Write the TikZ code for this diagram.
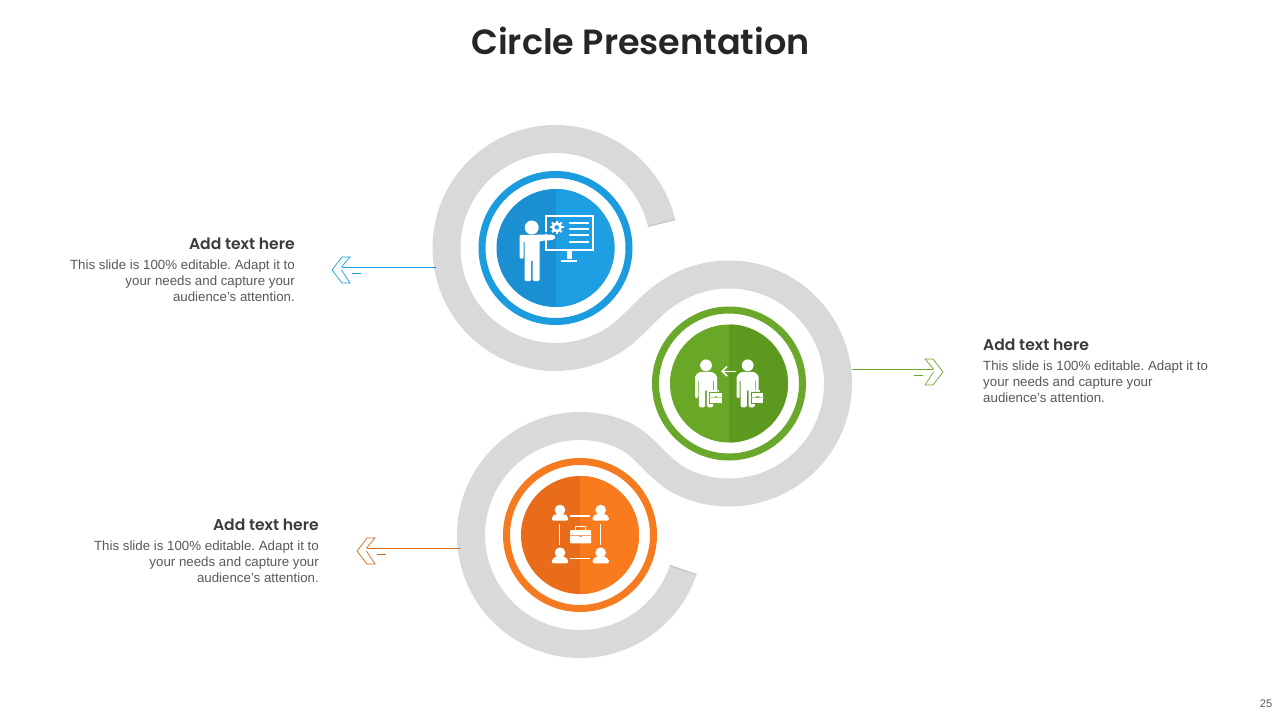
\documentclass[tikz,border=0pt]{standalone}
\usepackage{fontspec}
\setmainfont{Liberation Sans}
\newfontfamily\titlefont{Poppins}[UprightFont=* SemiBold]
\usetikzlibrary{arrows}

\definecolor{ringGray}{HTML}{D9D9D9}
\definecolor{blueRing}{HTML}{1B9CDE}
\definecolor{blueLeft}{HTML}{1A8FD1}
\definecolor{blueRight}{HTML}{1E9FE3}
\definecolor{greenRing}{HTML}{69A82A}
\definecolor{greenLeft}{HTML}{69A827}
\definecolor{greenRight}{HTML}{5B991F}
\definecolor{orangeRing}{HTML}{F57B20}
\definecolor{orangeLeft}{HTML}{E96C1B}
\definecolor{orangeRight}{HTML}{FA7A1E}
\definecolor{bodyGray}{HTML}{595959}
\definecolor{headGray}{HTML}{3B3B3B}

\tikzset{
	badgering/.style={circle, draw=#1, line width=7pt, minimum size=147pt, inner sep=0pt, fill=white},
	badgedisc/.style={circle, fill=#1, minimum size=118pt, inner sep=0pt},
	headtext/.style={font=\titlefont\fontsize{15.6}{18}\selectfont, text=headGray, inner sep=0pt},
	bodytext/.style={font=\frenchspacing\fontsize{13.3}{16}\selectfont, text=bodyGray, inner sep=0pt},
	leadline/.style={#1, line width=1pt},
	iconline/.style={draw=white, line width=2pt},
}

% ring, disc and lighter half of one badge
\newcommand{\badge}[4]{
	\node[badgering=#2] (#1Ring) at (#1Center) {};
	\node[badgedisc=#3] (#1Disc) at (#1Center) {};
	\fill[#4] (#1Center) ++(90:59pt) arc[start angle=90, end angle=-90, radius=59pt] -- cycle;
}
% hollow arrow head, #1 is the tip, #2 is 1 or -1 for right or left
\newcommand{\arrowtip}[3]{
	\begin{scope}[shift={(#1)}, x=#2pt]
		\draw[#3, line width=0.7pt, line join=miter] (-9.5,-3) -- (-18,-13) -- (-10,-13) -- (0,0) -- (-10,13) -- (-18,13) -- (-9.5,0);
		\draw[#3, line width=0.7pt] (-20,3.5) -- (-29,3.5);
	\end{scope}
}
\newcommand{\manicon}[2]{
	\begin{scope}[shift={(#1)}]
		\fill[white] (0,0) circle (5.9pt);
		\fill[white, rounded corners=1.5pt] (-11,33) -- (-11,10.5) -- (-6.5,6.5) -- (6.5,6.5) -- (11,10.5) -- (11,33) -- (8,33) -- (8,14) -- (7.2,14) -- (7.2,42) -- (0.8,42) -- (0.8,24) -- (-0.8,24) -- (-0.8,42) -- (-7.2,42) -- (-7.2,14) -- (-8,14) -- (-8,33) -- cycle;
		\draw[#2, fill=white, line width=0.9pt] (3.3,27.5) rectangle (16,38.5);
		\draw[white, line width=0.8pt] (7,27) -- (7,25.5) -- (12,25.5) -- (12,27);
		\draw[#2!50!white, line width=0.5pt] (3.3,32) -- (16,32);
		\fill[#2!70!white] (8.5,31) rectangle (11,33);
	\end{scope}
}
\newcommand{\staffhead}[1]{
	\begin{scope}[shift={(#1)}]
		\fill[white] (0,0) circle (5.3pt);
		\fill[white, rounded corners=2pt] (-8.2,10.7) -- (-8.2,6) -- (-3,3.8) -- (3,3.8) -- (8.2,6) -- (8.2,10.7) -- cycle;
	\end{scope}
}

\begin{document}
\begin{tikzpicture}[x=1pt, y=-1pt]
	\useasboundingbox (0,0) rectangle (1280,720);
	\fill[white] (0,0) rectangle (1280,720);

	\coordinate (blueCenter) at (555.5,248);
	\coordinate (greenCenter) at (729,383.5);
	\coordinate (orangeCenter) at (580,535);

	\node[font=\titlefont\fontsize{35}{40}\selectfont, text=black!85, inner sep=0pt, anchor=base] (title) at (640.5,54) {Circle Presentation};

	% grey band
	\draw[ringGray, line width=28pt] (blueCenter) ++(13:109pt)
		arc[start angle=13, end angle=305, radius=109pt]
		.. controls (635.5,324.7) and (648.5,306.3) .. (666.5,294.2)
		arc[start angle=125, end angle=-115, radius=109pt]
		.. controls (656,469.5) and (645.5,442.6) .. (617.3,432.6)
		arc[start angle=70, end angle=341.5, radius=109pt];
	\draw[black!22, line width=1.2pt] (blueCenter) ++(13.3:95pt) -- ++(13.3:28pt);
	\draw[black!22, line width=1.2pt] (orangeCenter) ++(341.2:95pt) -- ++(341.2:28pt);

	\badge{blue}{blueRing}{blueLeft}{blueRight}
	\badge{green}{greenRing}{greenLeft}{greenRight}
	\badge{orange}{orangeRing}{orangeLeft}{orangeRight}

	% presenter
	\fill[white] (531.7,227.5) circle (7pt);
	\fill[white, rounded corners=1.2pt] (519.5,258.5) -- (519.5,235) -- (553,234.5) -- (556,237) -- (553,240) -- (539.5,241) -- (539.5,281) -- (532.7,281) -- (532.7,260) -- (531,260) -- (531,281) -- (524.5,281) -- (524.5,241) -- (523.5,241) -- (523.5,258.5) -- cycle;
	\draw[iconline, line width=1.8pt] (546,216) rectangle (593,250);
	\fill[blueRight] (545,231.5) rectangle (547,233.5);
	\draw[iconline] (568.5,222.7) -- (588.5,222.7) (568.5,229) -- (588.5,229) (568.5,235.3) -- (588.5,235.3) (568.5,241.7) -- (588.5,241.7);
	\draw[white, line width=2.6pt] (556.8,227.3) circle (3.8pt);
	\foreach \a in {0,45,...,315}
		\draw[white, line width=2pt] (556.8,227.3) ++(\a:4.5pt) -- ++(\a:2.3pt);
	\fill[white] (567,251) rectangle (571.5,259);
	\fill[white] (560.7,259.5) rectangle (577.3,262);

	% two men
	\manicon{706,365.3}{greenLeft}
	\manicon{747.7,365.3}{greenRight}
	\draw[white, line width=1.6pt] (736,371.3) -- (723,371.3);
	\draw[white, line width=1.6pt] (727,366.5) -- (722.3,371.3) -- (727,376);

	% four staff and a case
	\staffhead{560,510}
	\staffhead{600.7,510}
	\staffhead{560,552.7}
	\staffhead{600.7,552.7}
	\draw[iconline, line width=1.4pt] (570,516) -- (590,516) (570,558.3) -- (590,558.3) (559.3,524) -- (559.3,545) (600.7,524) -- (600.7,545);
	\fill[white, rounded corners=0.8pt] (570,530) rectangle (591,543.3);
	\draw[white, line width=1pt] (575.5,530) -- (575.5,526.7) -- (585.5,526.7) -- (585.5,530);
	\draw[orangeLeft!60!white, line width=0.4pt] (570,535.5) -- (591,535.5);
	\fill[orangeLeft!70!white] (579.3,534.5) rectangle (581.7,536.8);

	% arrows
	\coordinate (blueStart) at (436,267.5);
	\coordinate (blueEnd) at (342,267.5);
	\coordinate (blueTip) at (332,270);
	\coordinate (greenStart) at (852,369.5);
	\coordinate (greenEnd) at (933,369.5);
	\coordinate (greenTip) at (943,372);
	\coordinate (orangeStart) at (460,548.5);
	\coordinate (orangeEnd) at (367,548.5);
	\coordinate (orangeTip) at (357,551);
	\draw[leadline=blueRing] (blueStart) -- (blueEnd);
	\draw[leadline=greenRing] (greenStart) -- (greenEnd);
	\draw[leadline=orangeRing!85!black] (orangeStart) -- (orangeEnd);
	\arrowtip{blueTip}{-1}{blueRing}
	\arrowtip{greenTip}{1}{greenRing}
	\arrowtip{orangeTip}{-1}{orangeRing!85!black}

	\node[headtext, anchor=base east] (blueHead) at (295,249) {Add text here};
	\node[bodytext, anchor=north east, align=right] (blueBody) at (295,259.5) {This slide is 100\% editable. Adapt it to\\your needs and capture your\\audience's attention.};
	\node[headtext, anchor=base west] (greenHead) at (983,350) {Add text here};
	\node[bodytext, anchor=north west, align=left] (greenBody) at (983,360.5) {This slide is 100\% editable. Adapt it to\\your needs and capture your\\audience's attention.};
	\node[headtext, anchor=base east] (orangeHead) at (319,530) {Add text here};
	\node[bodytext, anchor=north east, align=right] (orangeBody) at (319,540.5) {This slide is 100\% editable. Adapt it to\\your needs and capture your\\audience's attention.};

	\node[font=\fontsize{11}{12}\selectfont, text=bodyGray, inner sep=0pt] (pageNo) at (1266,704) {25};
\end{tikzpicture}
\end{document}
